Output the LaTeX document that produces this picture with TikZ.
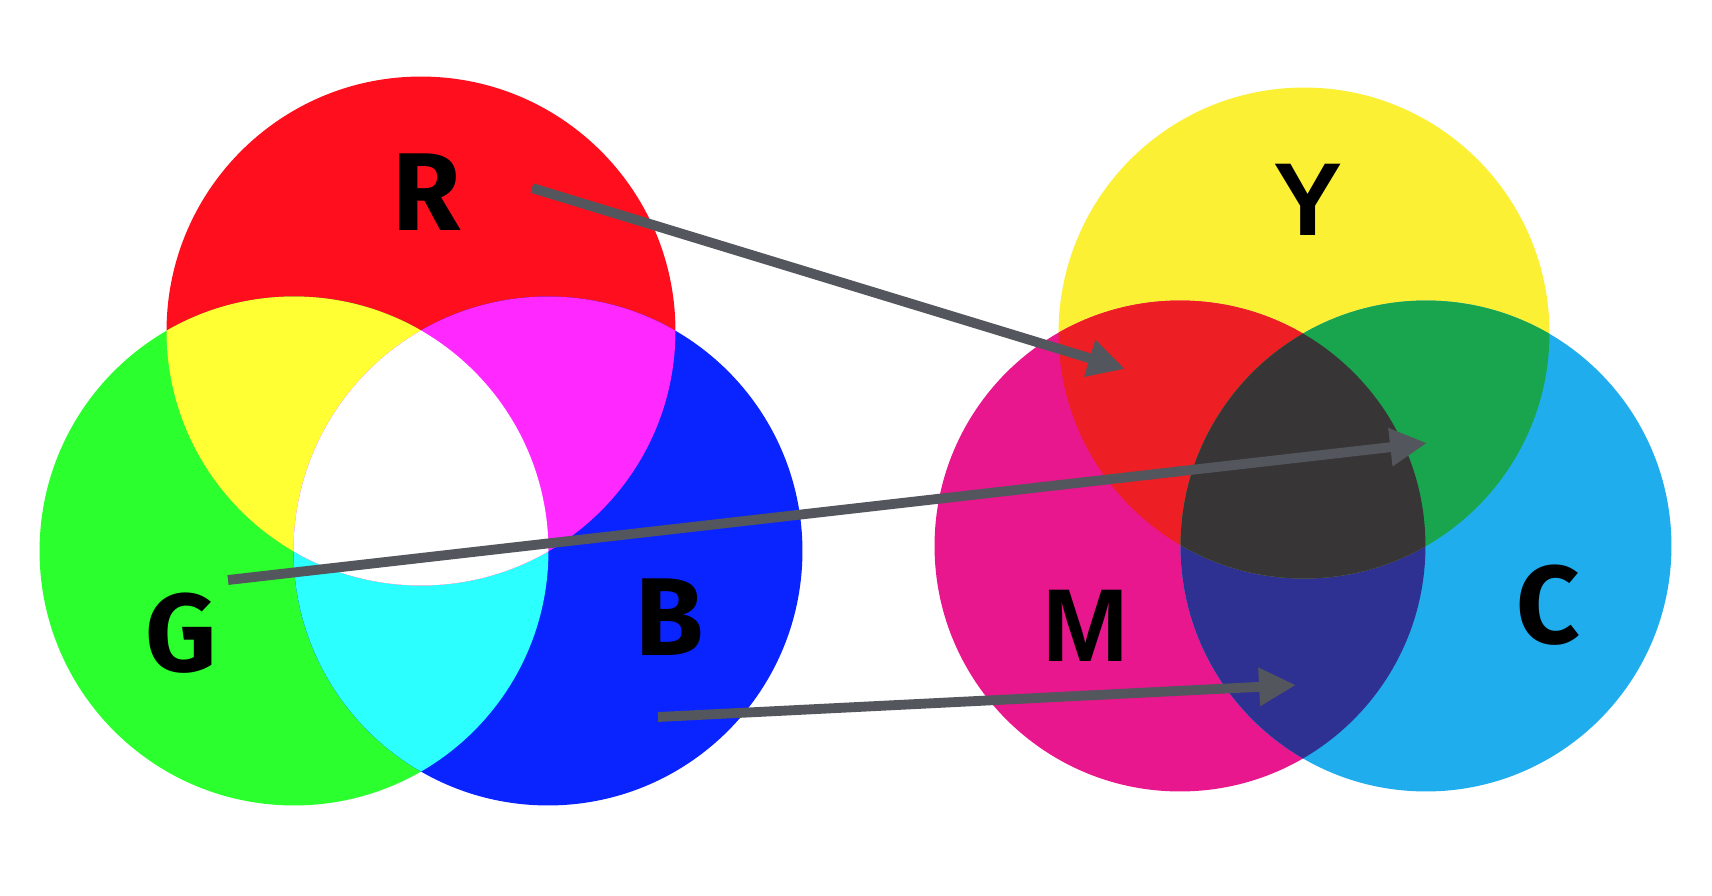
\documentclass[tikz,border=0pt]{standalone}
\usepackage{fontspec}
\newfontfamily\lblfont{Fira Sans}
\newfontfamily\arialfont{Liberation Sans}
\usetikzlibrary{arrows.meta}

\definecolor{addred}{HTML}{FF0F1E}
\definecolor{addgreen}{HTML}{2BFF2E}
\definecolor{addblue}{HTML}{0A24FF}
\definecolor{addyellow}{HTML}{FFFF33}
\definecolor{addmagenta}{HTML}{FF29FF}
\definecolor{addcyan}{HTML}{2BFFFF}
\definecolor{subyellow}{HTML}{FCF035}
\definecolor{submagenta}{HTML}{E9178D}
\definecolor{subcyan}{HTML}{1FADED}
\definecolor{subred}{HTML}{ED1F24}
\definecolor{subgreen}{HTML}{18A54E}
\definecolor{subblue}{HTML}{2E3192}
\definecolor{subblack}{HTML}{373536}
\definecolor{arrowgray}{HTML}{53565C}

\tikzset{
  letter/.style={text=black, inner sep=0pt, font=\lblfont\bfseries\fontsize{63}{63}\selectfont},
  arialletter/.style={text=black, inner sep=0pt, font=\arialfont\bfseries\fontsize{59}{59}\selectfont},
  pointer/.style={draw=arrowgray, line width=5.6pt, -{Triangle[length=21pt,width=20.5pt]}}
}

\def\circR{(421,-331) circle (5.09cm)}
\def\circG{(294,-551) circle (5.09cm)}
\def\circB{(548,-551) circle (5.09cm)}
\def\circY{(1304,-333) circle (4.91cm)}
\def\circM{(1180,-546) circle (4.91cm)}
\def\circC{(1426,-546) circle (4.91cm)}

\begin{document}
\begin{tikzpicture}[x=0.02cm,y=0.02cm]
\fill[white] (0,0) rectangle (1712,-896);

% additive mixing
\fill[addred] \circR;
\fill[addgreen] \circG;
\fill[addblue] \circB;
\begin{scope}
  \clip \circG;
  \fill[addcyan] \circB;
\end{scope}
\begin{scope}
  \clip \circR;
  \fill[addyellow] \circG;
  \fill[addmagenta] \circB;
  \clip \circG;
  \fill[white] \circB;
\end{scope}

% subtractive mixing
\fill[subyellow] \circY;
\fill[submagenta] \circM;
\fill[subcyan] \circC;
\begin{scope}
  \clip \circM;
  \fill[subblue] \circC;
\end{scope}
\begin{scope}
  \clip \circY;
  \fill[subred] \circM;
  \fill[subgreen] \circC;
  \clip \circM;
  \fill[subblack] \circC;
\end{scope}

\node[letter] (r) at (427,-192) {R};
\node[letter] (g) at (181,-633) {G};
\node[letter] (b) at (670,-617) {B};
\node[arialletter] (y) at (1308,-200) {Y};
\node[arialletter] (m) at (1086,-626) {M};
\node[letter] (c) at (1548,-605) {C};

\coordinate (fromR) at (532,-188);
\coordinate (toR) at (1125,-369);
\coordinate (fromG) at (228,-580);
\coordinate (toG) at (1427,-443);
\coordinate (fromB) at (658,-717);
\coordinate (toB) at (1296,-685);

\draw[pointer] (fromR) -- (toR);
\draw[pointer] (fromG) -- (toG);
\draw[pointer] (fromB) -- (toB);
\end{tikzpicture}
\end{document}
